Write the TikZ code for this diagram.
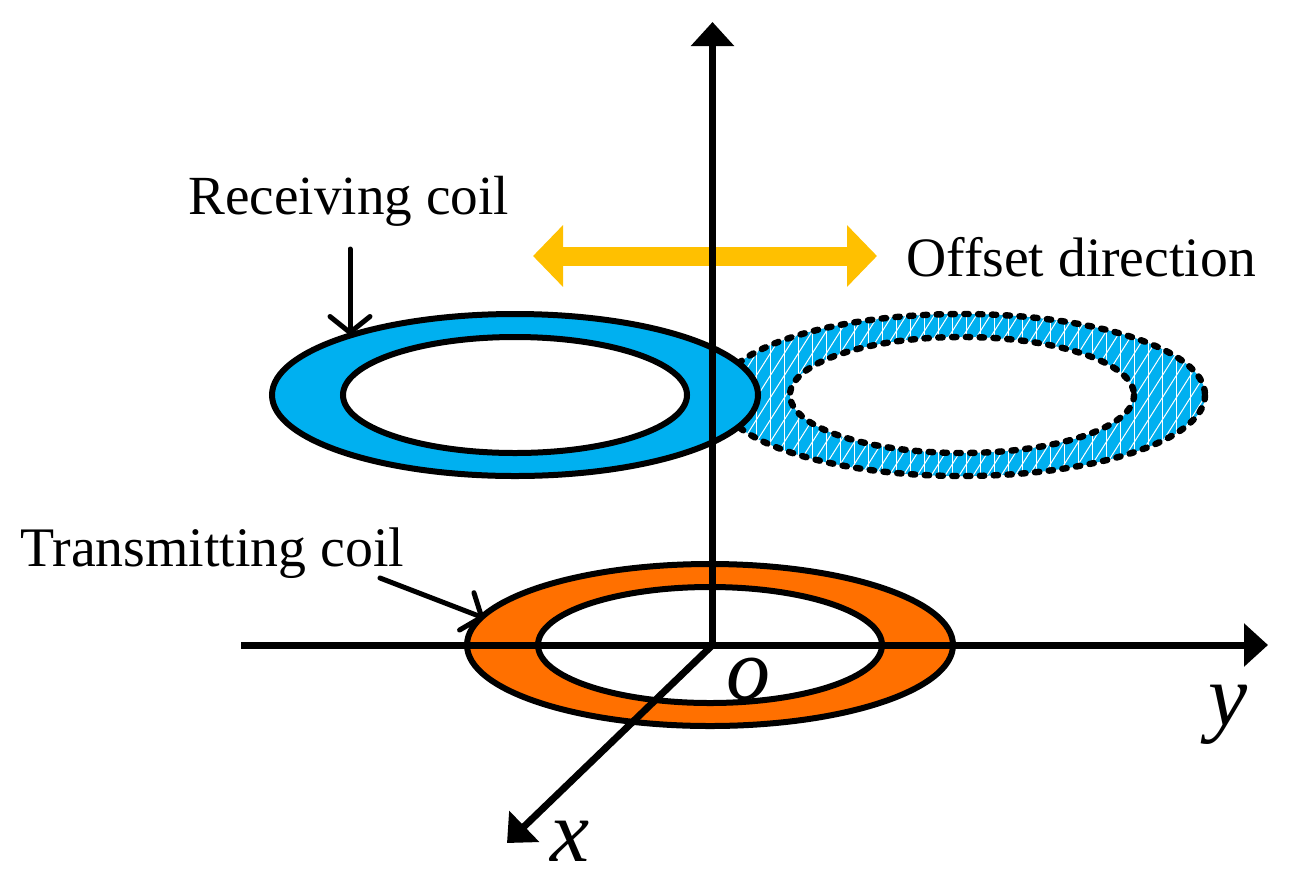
\documentclass[tikz,border=0pt]{standalone}
\usepackage{fontspec}
\setmainfont{Liberation Serif}
\usetikzlibrary{arrows.meta}
\definecolor{coilblue}{HTML}{00B0F0}
\definecolor{coilorange}{HTML}{FF7000}
\definecolor{offsetgold}{HTML}{FFC000}
\tikzset{
 coilline/.style={draw=black,line width=3pt},
 dotline/.style={draw=black,line width=3.2pt,dash pattern=on 2.2pt off 4.7pt,line cap=round},
 axisline/.style={draw=black,line width=3.5pt,-{Triangle[length=12pt,width=21pt]}},
 pointer/.style={draw=black,line width=2.5pt,line cap=round,-{Straight Barb[length=8pt,width=20pt,line width=2.5pt,round]}},
 lab/.style={inner sep=0pt,font=\fontsize{27.6pt}{30pt}\selectfont},
 axlab/.style={inner sep=0pt,font=\fontsize{44pt}{48pt}\itshape\selectfont},
}
\begin{document}
\begin{tikzpicture}[x=0.5pt,y=-0.5pt]
\useasboundingbox (0,0) rectangle (1299,889);
% dashed ghost coil
\fill[coilblue] (962,395) ellipse [x radius=243,y radius=81];
\begin{scope}
\clip (962,395) ellipse [x radius=243,y radius=81];
\foreach \k in {0,...,50}{
  \draw[white,line width=0.5pt] ({600+\k*14},490) -- ({600+\k*14+120},300);
  \draw[white,line width=0.5pt] ({700+\k*14},490) -- ({700+\k*14},300);
}
\end{scope}
\draw[dotline] (962,395) ellipse [x radius=243,y radius=81];
\draw[dotline,fill=white] (962,395) ellipse [x radius=172,y radius=58];
% receiving coil
\draw[coilline,fill=coilblue] (515,395) ellipse [x radius=243,y radius=81];
\draw[coilline,fill=white] (515,395) ellipse [x radius=172,y radius=58];
% transmitting coil
\draw[coilline,fill=coilorange] (710,645) ellipse [x radius=243,y radius=81];
\draw[coilline,fill=white] (710,645) ellipse [x radius=172,y radius=58];
% offset arrow
\coordinate (offL) at (533,256);
\coordinate (offR) at (877,256);
\draw[offsetgold,line width=9.5pt,{Triangle[length=15pt,width=30pt]}-{Triangle[length=15pt,width=30pt]}] (offL) -- (offR);
% axes
\coordinate (O) at (712.5,645);
\coordinate (Zt) at (712.5,22);
\coordinate (Yl) at (241,645);
\coordinate (Yr) at (1268,645);
\coordinate (Xt) at (507,843);
\draw[axisline] (O) -- (Zt);
\draw[axisline] (Yl) -- (Yr);
\draw[axisline] (O) -- (Xt);
% labels
\node[lab,anchor=base west] (rc) at (188,214) {Receiving coil};
\node[lab,anchor=base west,font=\fontsize{27.9pt}{30pt}\selectfont] (tc) at (20,566) {Transmitting coil};
\node[lab,anchor=base west,font=\fontsize{27.8pt}{30pt}\selectfont] (od) at (906,276) {Offset direction};
\node[axlab,anchor=base west] (lo) at (726,699) {o};
\node[axlab,anchor=base west] (ly) at (1208,725) {y};
\node[axlab,anchor=base west] (lx) at (550,861) {x};
% pointers
\coordinate (p1s) at (350,249);
\coordinate (p1e) at (350,335);
\coordinate (p2s) at (380,578);
\coordinate (p2e) at (484,618);
\draw[pointer] (p1s) -- (p1e);
\draw[pointer] (p2s) -- (p2e);
\end{tikzpicture}
\end{document}
